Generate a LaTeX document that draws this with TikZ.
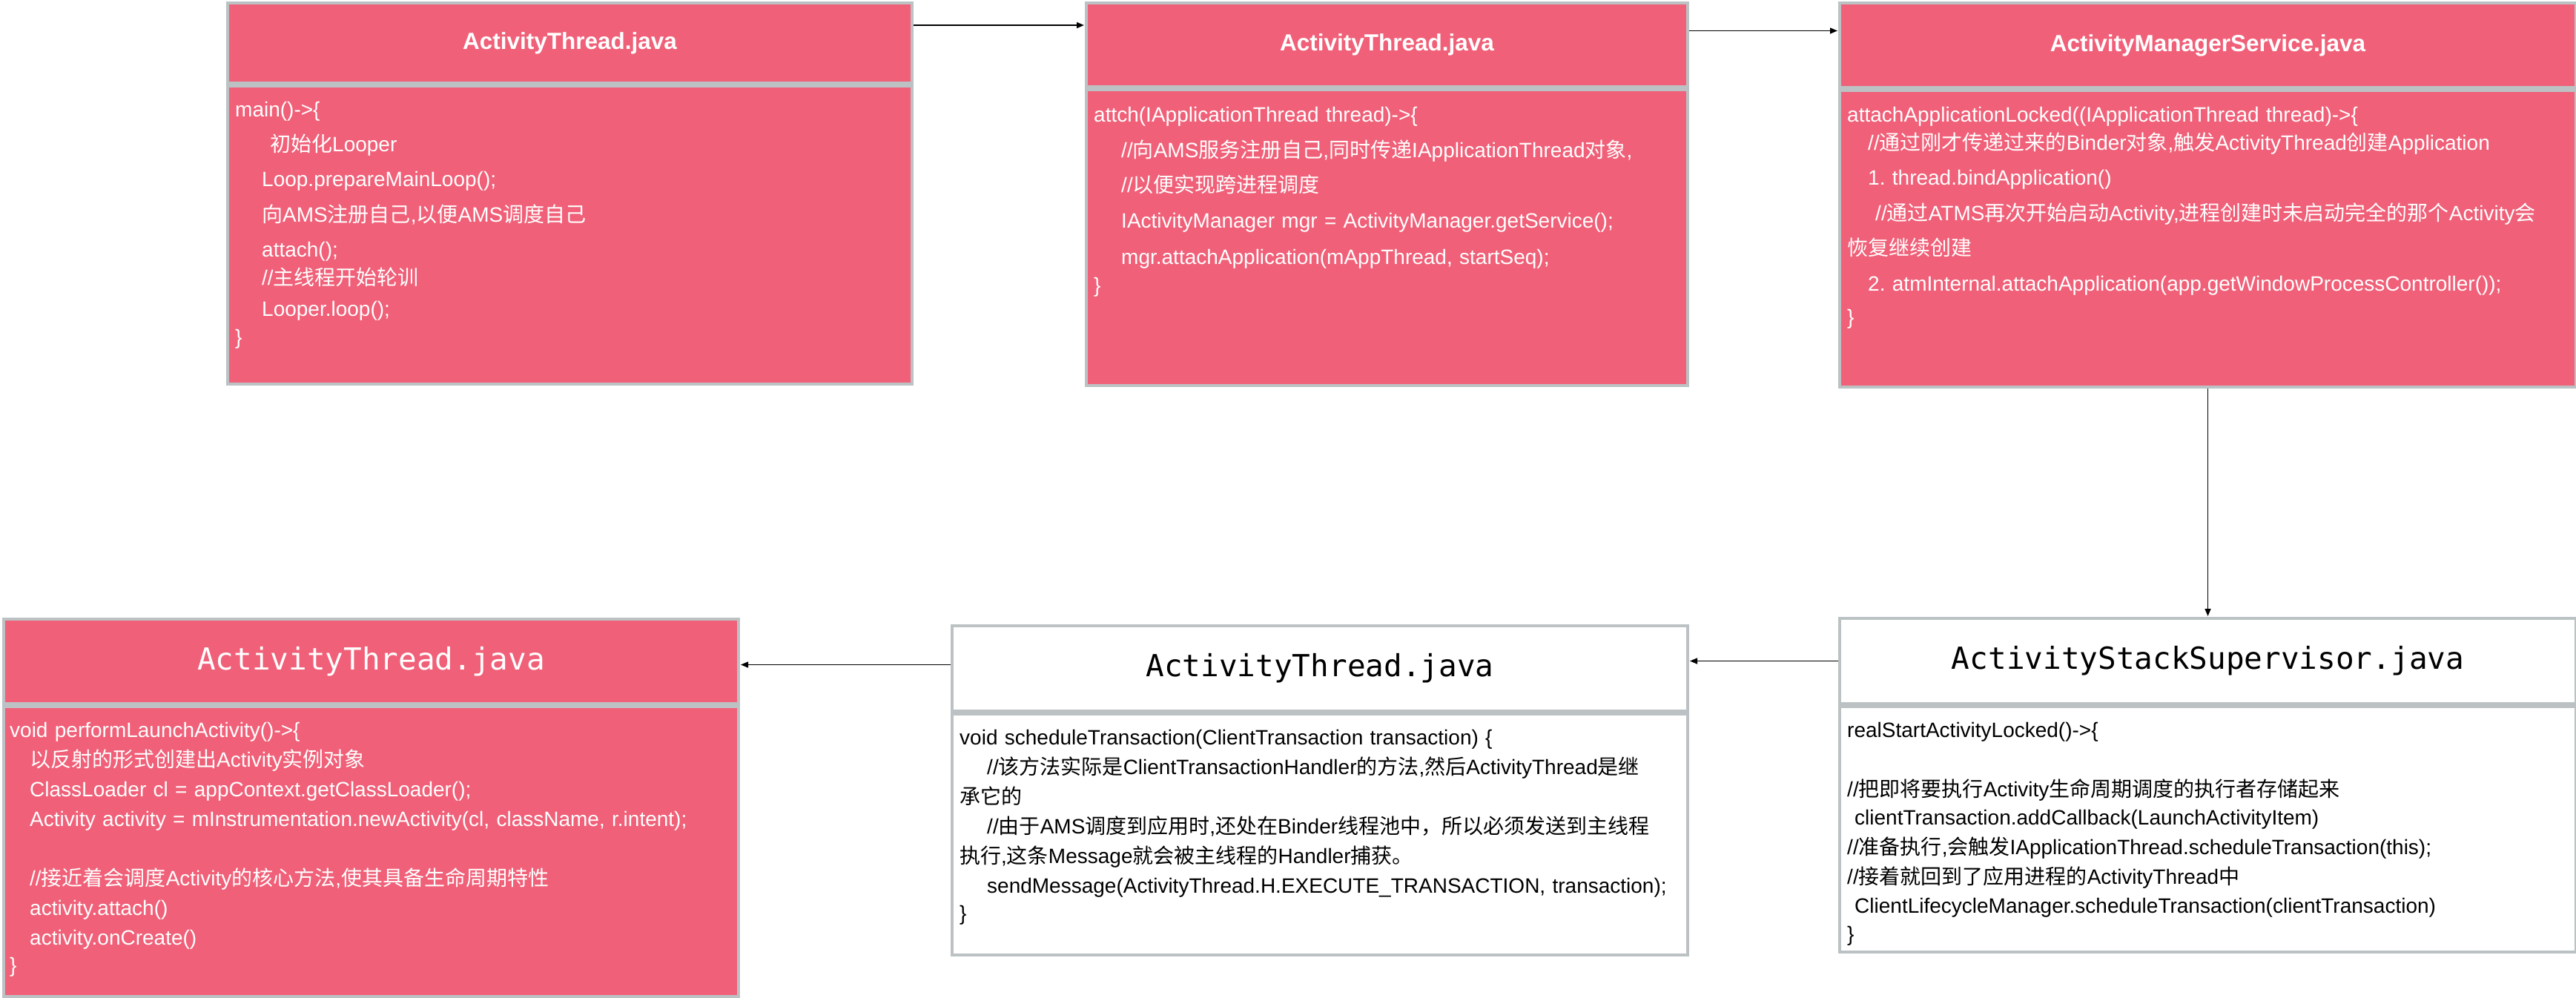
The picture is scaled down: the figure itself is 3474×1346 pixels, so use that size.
\documentclass[tikz,border=0pt]{standalone}
\usepackage{fontspec}
\usetikzlibrary{arrows.meta}
\setmainfont{Liberation Sans}
\newfontfamily\cjkfont{Noto Sans CJK SC}
\newfontfamily\latinfont{Liberation Sans}
\newfontfamily\codefont{DejaVu Sans Mono}
\definecolor{boxpink}{RGB}{240,96,120}
\definecolor{boxedge}{RGB}{188,194,196}
\frenchspacing
\XeTeXinterchartokenstate=1
\newXeTeXintercharclass\cjkclass
\count255="4E00
\loop
  \XeTeXcharclass\count255=\cjkclass
  \ifnum\count255<"9FFF \advance\count255 by 1 \repeat
\XeTeXcharclass"3002=\cjkclass
\XeTeXcharclass"FF0C=\cjkclass
\XeTeXinterchartoks 0 \cjkclass={\cjkfont}
\XeTeXinterchartoks 4095 \cjkclass={\cjkfont}
\XeTeXinterchartoks \cjkclass 0={\latinfont}
\XeTeXinterchartoks \cjkclass 4095={\latinfont}

\begin{document}
\begin{tikzpicture}[x=1pt,y=-1pt,
    box/.style={draw=boxedge,line width=4pt,inner sep=0pt,anchor=north west},
    pinkbox/.style={box,fill=boxpink},
    whitebox/.style={box,fill=white},
    classname/.style={text=white,font=\bfseries\fontsize{31.5pt}{36pt}\selectfont},
    codename/.style={font=\codefont\fontsize{41pt}{48pt}\selectfont},
    code/.style={anchor=base west,inner sep=0pt,text width=980pt,align=left,font=\frenchspacing\fontsize{28pt}{40pt}\selectfont},
    flow/.style={-{Triangle[length=10pt,width=8pt]},line width=1.5pt,shorten >=1pt}]
\useasboundingbox (0,0) rectangle (3474,1346);

\node[pinkbox,minimum width=923pt,minimum height=108pt,classname] (mainH) at (305,2) {ActivityThread.java};
\node[pinkbox,minimum width=923pt,minimum height=402pt] (mainB) at (mainH.south west) {};
\node[code,text=white] (mainT) at ([xshift=12pt,yshift=-43pt]mainB.north west) {main()->\{\\[7pt]
    \hspace*{47pt}初始化Looper\\[7pt]
    \hspace*{36pt}Loop.prepareMainLoop();\\[8pt]
    \hspace*{36pt}向AMS注册自己,以便AMS调度自己\\[7pt]
    \hspace*{36pt}attach();\\[-2pt]
    \hspace*{36pt}//主线程开始轮训\\[2pt]
    \hspace*{36pt}Looper.loop();\\[-2pt]
    \}};

\node[pinkbox,minimum width=811pt,minimum height=113pt,classname] (attachH) at (1463,2) {ActivityThread.java};
\node[pinkbox,minimum width=811pt,minimum height=399pt] (attachB) at (attachH.south west) {};
\node[code,text=white] (attachT) at ([xshift=12pt,yshift=-45pt]attachB.north west) {attch(IApplicationThread thread)->\{\\[8pt]
    \hspace*{37pt}//向AMS服务注册自己,同时传递IApplicationThread对象,\\[7pt]
    \hspace*{37pt}//以便实现跨进程调度\\[8pt]
    \hspace*{37pt}IActivityManager mgr = ActivityManager.getService();\\[9pt]
    \hspace*{37pt}mgr.attachApplication(mAppThread, startSeq);\\[-2pt]
    \}};

\node[pinkbox,minimum width=993pt,minimum height=114pt,classname] (amsH) at (2479,2) {ActivityManagerService.java};
\node[pinkbox,minimum width=993pt,minimum height=400pt] (amsB) at (amsH.south west) {};
\node[code,text=white] (amsT) at ([xshift=12pt,yshift=-44pt]amsB.north west) {attachApplicationLocked((IApplicationThread thread)->\{\\[-2pt]
    \hspace*{28pt}//通过刚才传递过来的Binder对象,触发ActivityThread创建Application\\[7pt]
    \hspace*{28pt}1. thread.bindApplication()\\[8pt]
    \hspace*{38pt}//通过ATMS再次开始启动Activity,进程创建时未启动完全的那个Activity会\\[7pt]
    恢复继续创建\\[8pt]
    \hspace*{28pt}2. atmInternal.attachApplication(app.getWindowProcessController());\\[5pt]
    \}};

\node[whitebox,minimum width=993pt,minimum height=115pt,codename] (stackH) at (2479,832) {ActivityStackSupervisor.java};
\node[whitebox,minimum width=993pt,minimum height=331pt] (stackB) at (stackH.south west) {};
\node[code] (stackT) at ([xshift=12pt,yshift=-43pt]stackB.north west) {realStartActivityLocked()->\{\\[40pt]
    //把即将要执行Activity生命周期调度的执行者存储起来\\[-2pt]
    \hspace*{10pt}clientTransaction.addCallback(LaunchActivityItem)\\
    //准备执行,会触发IApplicationThread.scheduleTransaction(this);\\
    //接着就回到了应用进程的ActivityThread中\\[-1pt]
    \hspace*{10pt}ClientLifecycleManager.scheduleTransaction(clientTransaction)\\[-2pt]
    \}};

\node[whitebox,minimum width=992pt,minimum height=115pt,codename] (schedH) at (1282,842) {ActivityThread.java};
\node[whitebox,minimum width=992pt,minimum height=325pt] (schedB) at (schedH.south west) {};
\node[code] (schedT) at ([xshift=12pt,yshift=-43pt]schedB.north west) {void scheduleTransaction(ClientTransaction transaction) \{\\
    \hspace*{37pt}//该方法实际是ClientTransactionHandler的方法,然后ActivityThread是继\\
    承它的\\
    \hspace*{37pt}//由于AMS调度到应用时,还处在Binder线程池中，所以必须发送到主线程\\
    执行,这条Message就会被主线程的Handler捕获。\\
    \hspace*{37pt}sendMessage(ActivityThread.H.EXECUTE\_TRANSACTION, transaction);\\[-3pt]
    \}};

\node[pinkbox,minimum width=991pt,minimum height=114pt,codename,text=white] (launchH) at (3,833) {ActivityThread.java};
\node[pinkbox,minimum width=991pt,minimum height=391pt] (launchB) at (launchH.south west) {};
\node[code,text=white] (launchT) at ([xshift=10pt,yshift=-43pt]launchB.north west) {void performLaunchActivity()->\{\\
    \hspace*{27pt}以反射的形式创建出Activity实例对象\\
    \hspace*{27pt}ClassLoader cl = appContext.getClassLoader();\\
    \hspace*{27pt}Activity activity = mInstrumentation.newActivity(cl, className, r.intent);\\[40pt]
    \hspace*{27pt}//接近着会调度Activity的核心方法,使其具备生命周期特性\\
    \hspace*{27pt}activity.attach()\\
    \hspace*{27pt}activity.onCreate()\\[-3pt]
    \}};

\draw[flow] ([yshift=24pt]mainH.east) -- ([yshift=24pt]mainH.east -| attachH.west);
\draw[flow] ([yshift=19pt]attachH.east) -- ([yshift=19pt]attachH.east -| amsH.west);
\draw[flow] (amsB.south) -- (stackH.north);
\draw[flow] (stackH.west) -- (stackH.west -| schedH.east);
\draw[flow] ([yshift=5pt]schedH.west) -- ([yshift=5pt]schedH.west -| launchH.east);
\end{tikzpicture}
\end{document}
